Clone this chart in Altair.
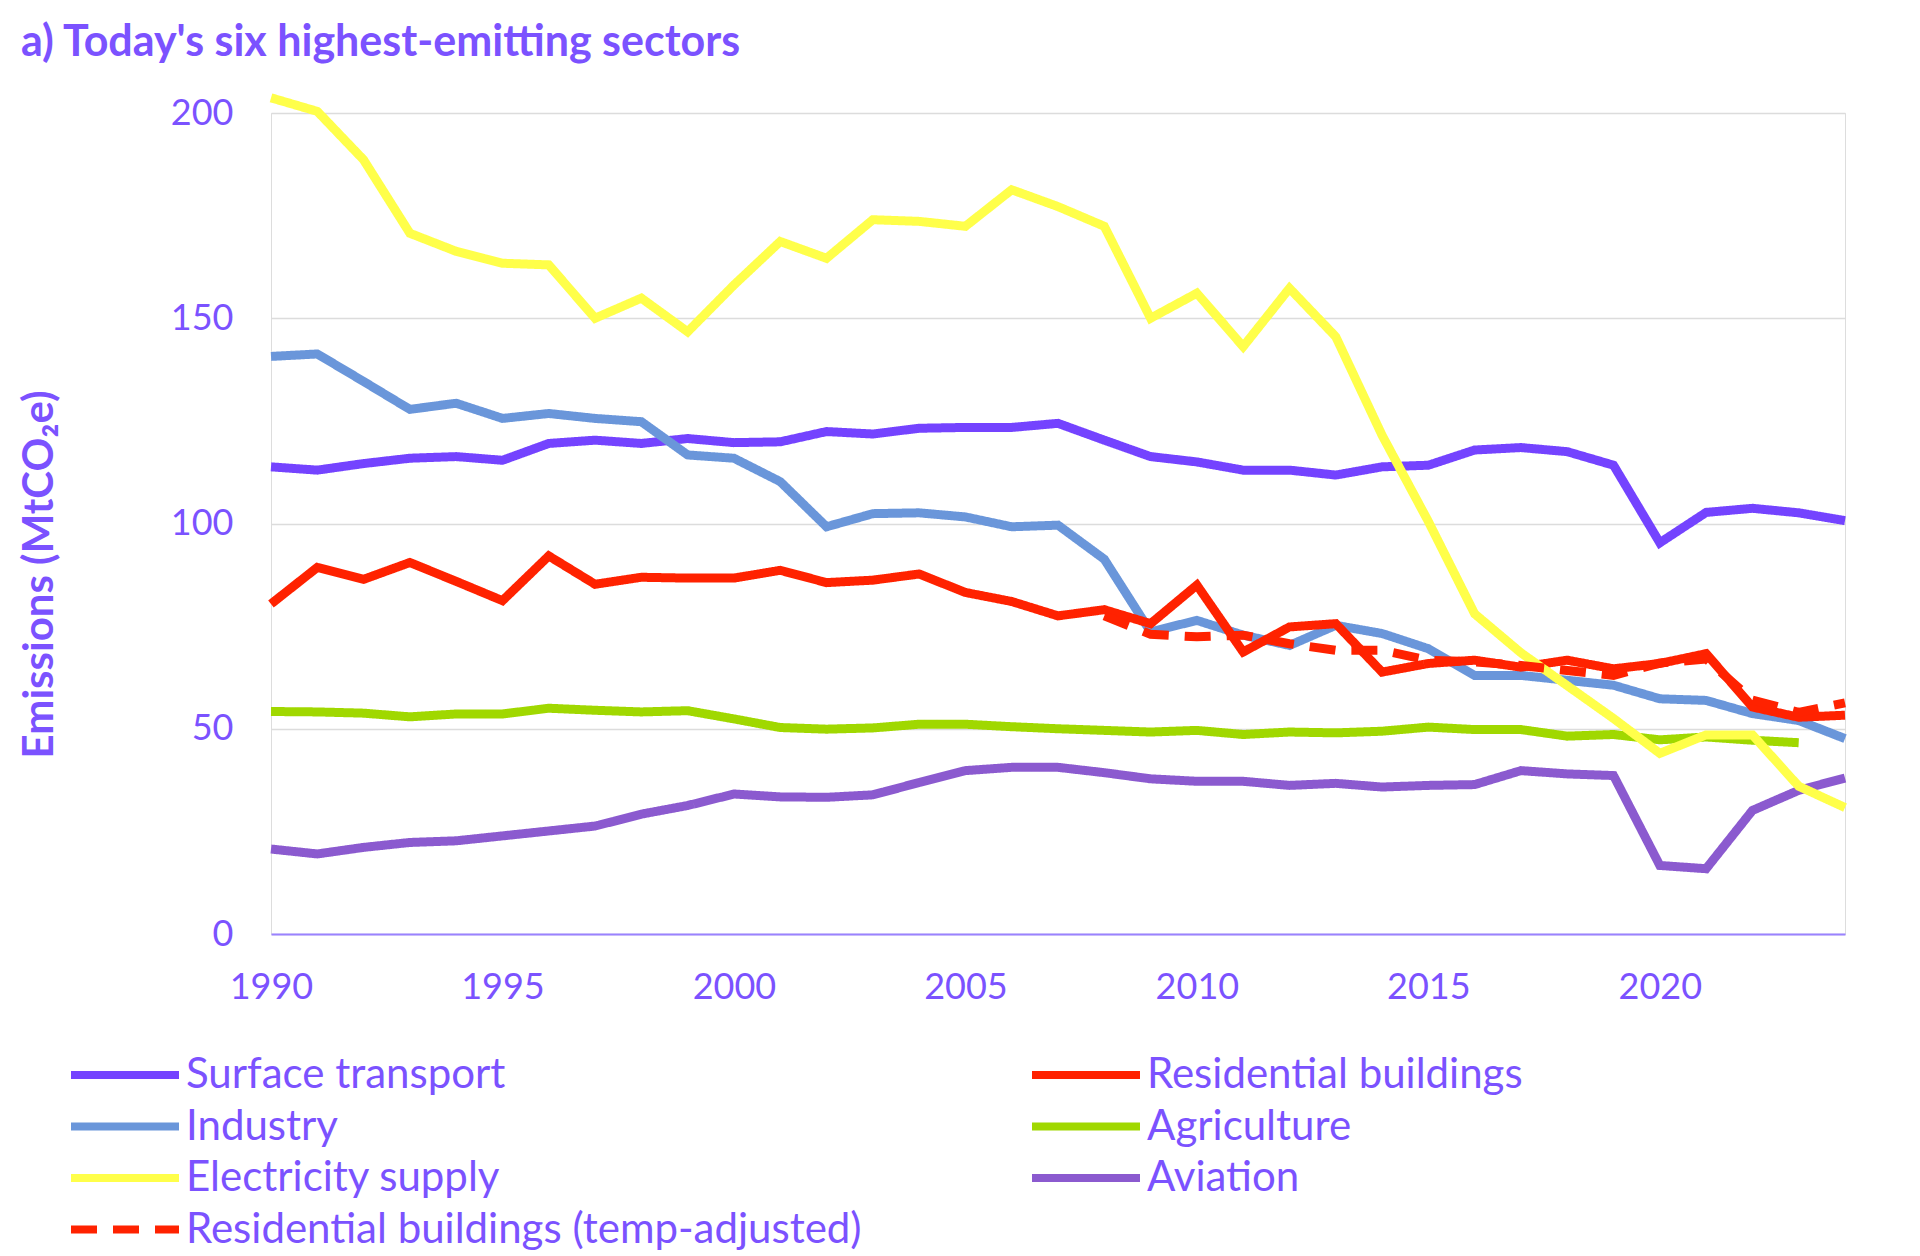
import altair as alt
import pandas as pd

# Annual emissions by sector, MtCO2e
years = list(range(1990, 2025))

surface_transport = [113.8, 113.0, 114.6, 115.9, 116.3, 115.4, 119.5, 120.3, 119.5, 120.7,
                     119.7, 119.9, 122.4, 121.8, 123.2, 123.4, 123.4, 124.4, 120.3, 116.3,
                     115.0, 113.0, 113.0, 111.8, 113.8, 114.2, 117.9, 118.5, 117.5, 114.2,
                     95.3, 102.7, 103.7, 102.6, 100.7]
industry = [140.7, 141.3, 134.6, 127.8, 129.3, 125.6, 126.8, 125.6, 124.8, 116.7,
            115.9, 110.2, 99.2, 102.4, 102.6, 101.6, 99.2, 99.6, 91.3, 73.6,
            76.4, 72.8, 70.3, 75.2, 73.2, 69.5, 63.0, 63.0, 61.8, 60.6,
            57.3, 56.9, 53.7, 52.0, 47.6]
electricity_supply = [203.7, 200.4, 188.6, 170.7, 166.3, 163.4, 163.0, 150.0, 154.9, 146.7,
                      158.1, 168.7, 164.6, 174.0, 173.6, 172.4, 181.3, 177.2, 172.4, 150.0,
                      156.1, 143.1, 157.3, 145.5, 121.5, 100.5, 78.0, 68.5, 60.5, 52.5,
                      44.0, 48.5, 48.5, 36.0, 30.8]
residential = [80.4, 89.3, 86.4, 90.5, 85.9, 81.2, 92.1, 85.2, 86.9, 86.7,
               86.7, 88.6, 85.6, 86.2, 87.7, 83.2, 81.0, 77.5, 79.0, 75.6,
               85.0, 68.7, 74.8, 75.6, 63.8, 65.9, 66.7, 65.0, 66.7, 64.6,
               65.9, 68.3, 55.3, 52.8, 53.3]
agriculture = [54.2, 54.1, 53.8, 52.9, 53.6, 53.6, 55.0, 54.5, 54.1, 54.4,
               52.4, 50.3, 49.9, 50.2, 51.1, 51.1, 50.5, 50.0, 49.6, 49.2,
               49.6, 48.6, 49.2, 49.0, 49.4, 50.4, 49.8, 49.8, 48.2, 48.6,
               47.3, 48.0, 47.2, 46.6, None]
aviation = [20.7, 19.5, 21.1, 22.3, 22.7, 23.9, 25.1, 26.3, 29.2, 31.3,
            34.1, 33.4, 33.3, 33.9, 36.9, 39.8, 40.6, 40.6, 39.3, 37.8,
            37.2, 37.2, 36.2, 36.7, 35.8, 36.2, 36.4, 39.8, 39.0, 38.6,
            16.7, 15.9, 30.1, 35.0, 38.0]
residential_temp_adj = [None] * 18 + [77.5, 73.0, 72.4, 72.8, 70.7, 69.1, 69.1, 66.7, 66.3,
                                      65.4, 64.2, 63.0, 66.0, 67.0, 57.0, 54.0, 56.3]

# Legend entries, filled column by column (two columns)
legend_order = ["Surface transport", "Industry", "Electricity supply",
                "Residential buildings (temp-adjusted)",
                "Residential buildings", "Agriculture", "Aviation"]
line_colors = ["#7443FF", "#6A96DA", "#FFFF4A", "#FF2200", "#FF2200", "#A0D800", "#8B5ACF"]
line_dashes = [[1, 0], [1, 0], [1, 0], [26, 16], [1, 0], [1, 0], [1, 0]]

# Drawing order (last drawn on top)
draw_order = [
    ("Surface transport", surface_transport),
    ("Industry", industry),
    ("Residential buildings", residential),
    ("Agriculture", agriculture),
    ("Aviation", aviation),
    ("Electricity supply", electricity_supply),
    ("Residential buildings (temp-adjusted)", residential_temp_adj),
]

rows = []
for name, vals in draw_order:
    for yr, v in zip(years, vals):
        if v is not None:
            rows.append({"year": yr, "value": v, "series": name})
df = pd.DataFrame(rows)

TEXT = "#7B52FF"
FONT = "Lato"

legend = alt.Legend(
    orient="none", legendX=-167, legendY=941, columns=2, direction="vertical",
    title=None, symbolType="M-4,0H4", symbolSize=729, symbolStrokeWidth=8,
    labelFontSize=42, labelColor=TEXT, labelFont=FONT, labelLimit=1200,
    labelOffset=40, rowPadding=9.5, columnPadding=154, padding=0,
)

lines = alt.Chart(df).mark_line(strokeWidth=9, clip=False).encode(
    x=alt.X("year:Q",
            scale=alt.Scale(domain=[1990, 2024], nice=False, zero=False),
            axis=alt.Axis(values=[1990, 1995, 2000, 2005, 2010, 2015, 2020], format="d",
                          grid=False, ticks=False, domain=True, domainColor="#9A82FF",
                          domainWidth=2, labelColor=TEXT, labelFont=FONT, labelFontSize=36,
                          labelPadding=36, labelFlush=False, title=None)),
    y=alt.Y("value:Q",
            scale=alt.Scale(domain=[0, 200], nice=False),
            axis=alt.Axis(values=[0, 50, 100, 150, 200], grid=True, gridColor="#DCDCDC",
                          gridWidth=1.5, domain=False, ticks=False, labelColor=TEXT,
                          labelFont=FONT, labelFontSize=36, labelPadding=38,
                          labelFlush=False,
                          title="Emissions (MtCO₂e)", titleColor=TEXT, titleFont=FONT,
                          titleFontSize=42, titleFontWeight="bold", titleX=-232,
                          titleY=461, titleAngle=270, titleAlign="center",
                          titleBaseline="middle")),
    color=alt.Color("series:N", scale=alt.Scale(domain=legend_order, range=line_colors),
                    legend=legend),
    strokeDash=alt.StrokeDash("series:N",
                              scale=alt.Scale(domain=legend_order, range=line_dashes),
                              legend=legend),
)

heading = alt.Chart(pd.DataFrame({"t": ["a) Today's six highest-emitting sectors"]})).mark_text(
    align="left", baseline="alphabetic", font=FONT, fontSize=43, fontWeight="bold",
    color=TEXT,
).encode(x=alt.value(-250), y=alt.value(-57), text="t:N")

chart = alt.layer(lines, heading).properties(
    width=1574, height=821,
    autosize=alt.AutoSizeParams(type="none"),
    padding={"left": 271, "top": 113, "right": 75, "bottom": 322},
).configure_view(strokeWidth=0).configure(background="white")

chart.save("out.html", embed_options={"renderer": "svg", "actions": False})
